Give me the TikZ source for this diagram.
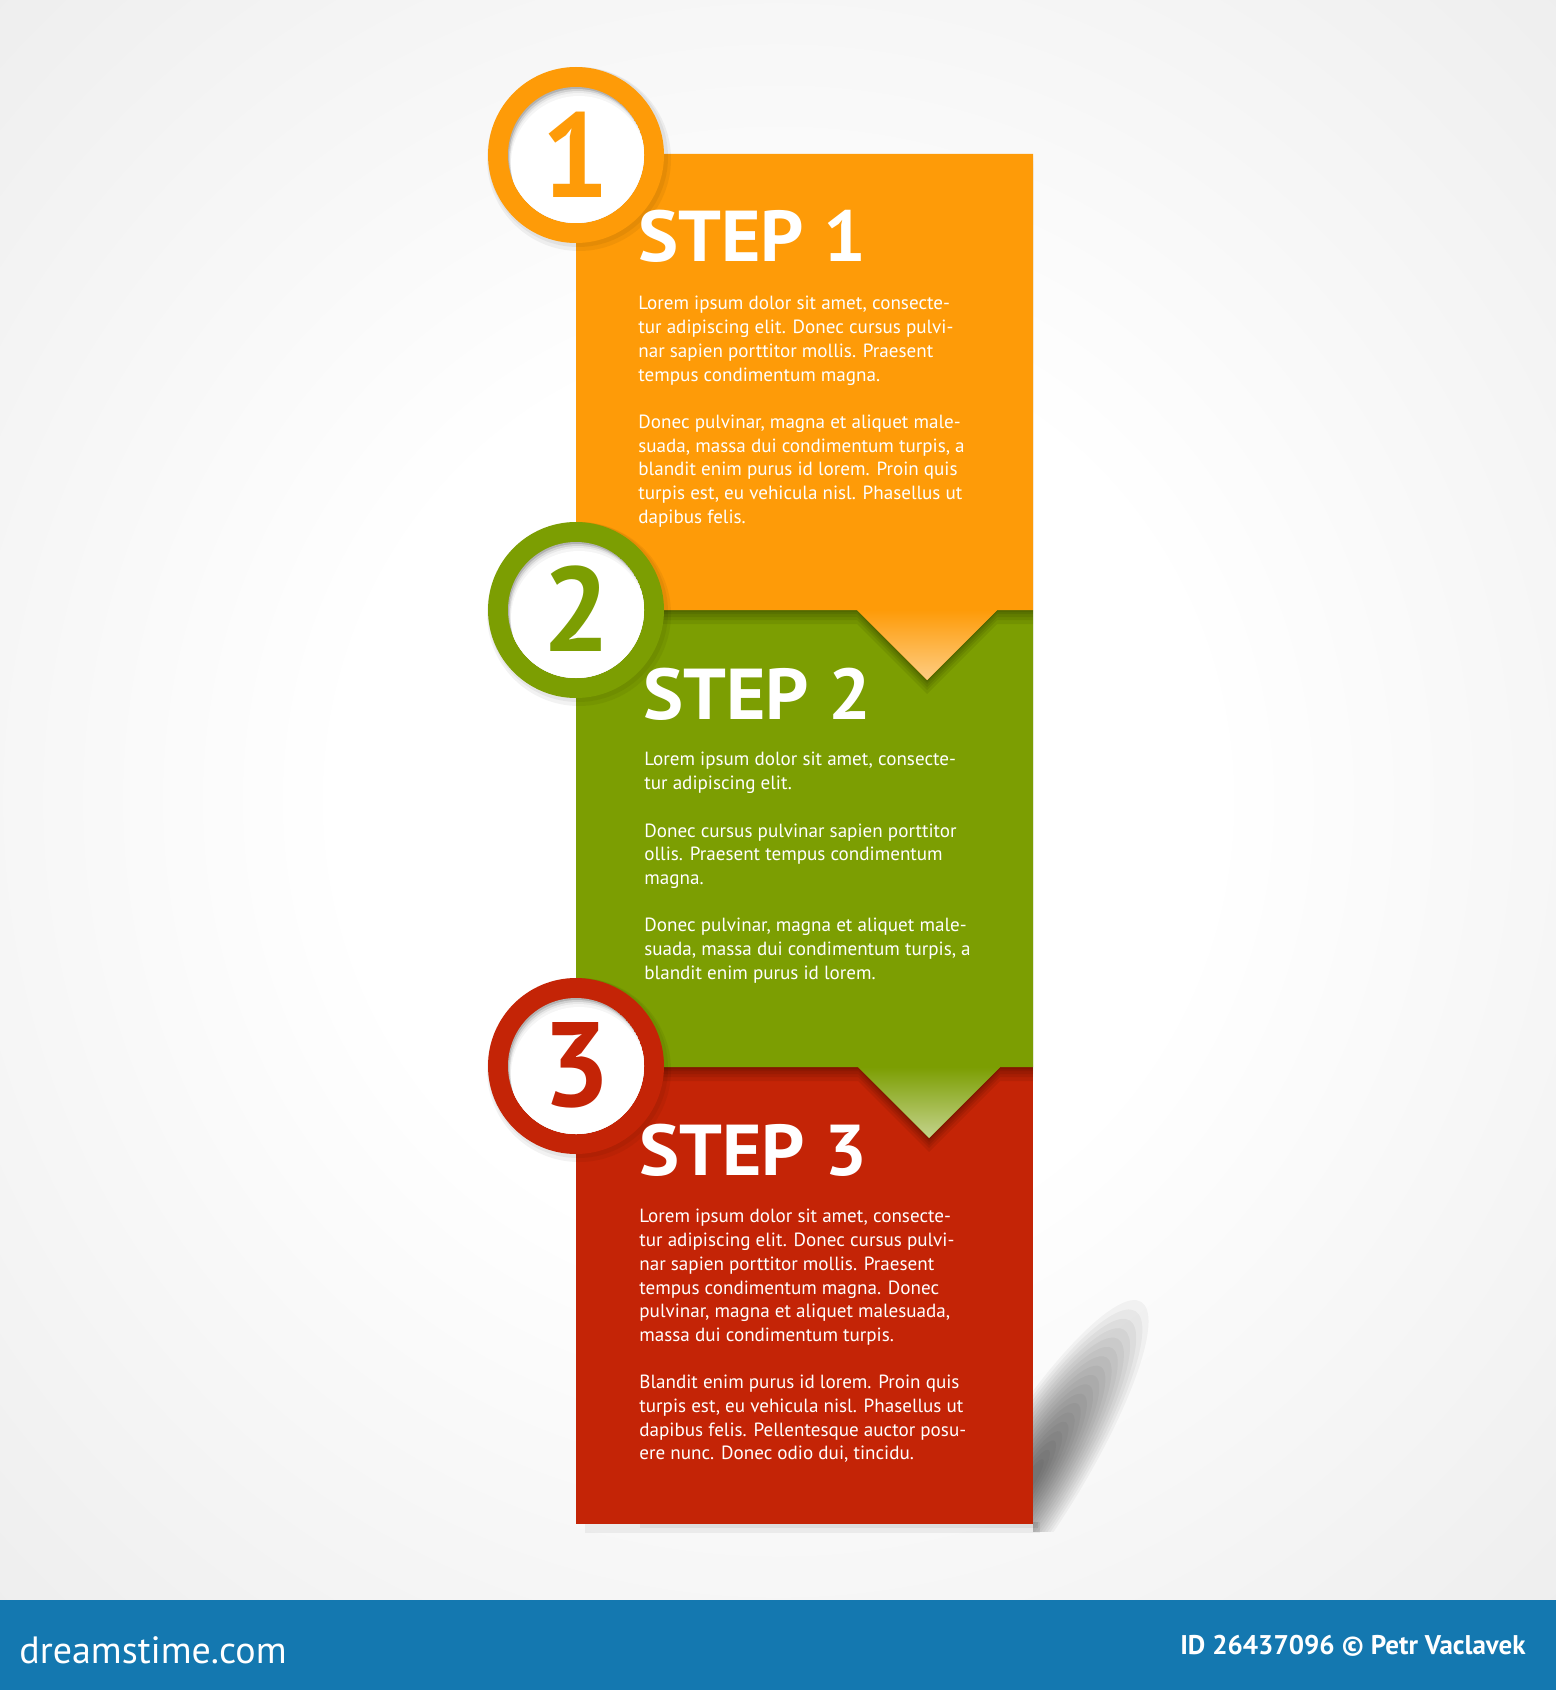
\documentclass[tikz,border=0pt]{standalone}
\usepackage{fontspec}
\usepackage{graphicx}
\setmainfont{PT Sans}
\usetikzlibrary{calc}
\definecolor{stepA}{RGB}{254,155,8}
\definecolor{stepB}{RGB}{124,158,2}
\definecolor{stepC}{RGB}{196,36,6}
\definecolor{banner}{RGB}{20,120,176}
\pgfdeclareradialshading{bgshade}{\pgfpoint{0bp}{0bp}}{color(0bp)=(white); color(14bp)=(white); color(50bp)=(black!11); color(72bp)=(black!17)}
\begin{document}
\begin{tikzpicture}[x=0.5pt,y=-0.5pt,
  body/.style={anchor=north west, inner sep=0pt, align=left, text=white, font=\fontsize{9.55}{11.85}\selectfont},
  title/.style={anchor=base west, inner sep=0pt, text=white, font=\fontsize{36}{36}\selectfont\bfseries},
  digit/.style={inner sep=0pt, font=\fontsize{60}{60}\selectfont\bfseries},
  softshadow/.style={fill=black, opacity=0.075},
  sheetshadow/.style={fill=black, opacity=0.04},
]
\useasboundingbox (0,0) rectangle (1556,1690);
% background
\shade[shading=bgshade] (0,0) rectangle (1556,1600);
\fill[banner] (0,1600) rectangle (1556,1690);

% shadow of the sheet at the lower right
\begin{scope}
  \clip (1033,1100) rectangle (1260,1531);
  \foreach \i in {0,...,17}
    \fill[sheetshadow, rotate around={58:(1030,1480)}] (1030,1480) ellipse [x radius={210*(1-\i*0.052)}, y radius={48*(1-\i*0.052)}];
\end{scope}
\fill[black, opacity=0.05] (585,1522) rectangle (1040,1533);
\fill[black, opacity=0.06] (640,1522) rectangle (1038,1528);

% red panel
\fill[stepC] (576,1067) rectangle (1033,1524);

% shadow of green tab on red
\foreach \k in {2,4,7,10,14}
  \fill[softshadow] (576,{610+\k}) -- (1033,{610+\k}) -- (1033,{1067+\k}) -- (1000,{1067+\k}) -- (929,{1138+\k}) -- (858,{1067+\k}) -- (576,{1067+\k}) -- cycle;

% green panel
\fill[stepB] (576,610) -- (1033,610) -- (1033,1067) -- (1000,1067) -- (929,1138) -- (858,1067) -- (576,1067) -- cycle;
\shade[top color=stepB, middle color=stepB, bottom color=stepB!45!white] (858,1067) -- (929,1138) -- (1000,1067) -- cycle;

% shadow of orange tab on green
\foreach \k in {2,4,7,10,14}
  \fill[softshadow] (576,{154+\k}) -- (1033,{154+\k}) -- (1033,{610+\k}) -- (997,{610+\k}) -- (927,{680+\k}) -- (857,{610+\k}) -- (576,{610+\k}) -- cycle;

% orange panel
\fill[stepA] (576,154) -- (1033,154) -- (1033,610) -- (997,610) -- (927,680) -- (857,610) -- (576,610) -- cycle;
\shade[top color=stepA, middle color=stepA, bottom color=stepA!50!white] (857,610) -- (927,680) -- (997,610) -- cycle;

% circles
\foreach \cy/\col in {155/stepA, 610/stepB, 1066/stepC}{
  \fill[black, opacity=0.05] (579,{\cy+4}) circle (92);
  \fill[black, opacity=0.05] (578,{\cy+2}) circle (90);
  \fill[\col] (576,\cy) circle (88);
  \begin{scope}
    \clip (576,\cy) circle (68);
    \fill[black!30] (576,\cy) circle (68);
    \fill[black!18] (577,{\cy+2}) circle (68);
    \fill[black!9] (578,{\cy+4}) circle (68);
    \fill[black!4] (578.5,{\cy+6}) circle (68);
    \fill[white] (579,{\cy+9}) circle (68);
  \end{scope}
}
\node[digit, text=stepA] (n1) at (576,155) {1};
\node[digit, text=stepB] (n2) at (577,609) {2};
\node[digit, text=stepC] (n3) at (577,1065) {3};

% titles
\node[title] (t1) at (638,262) {\scalebox{1.05}[1]{STEP 1}};
\node[title] (t2) at (643,719) {\scalebox{1.05}[1]{STEP 2}};
\node[title] (t3) at (639,1175) {\scalebox{1.05}[1]{STEP 3}};

% body texts
\node[body] (b1) at (638,296) {Lorem ipsum dolor sit amet, consecte-\\tur adipiscing elit. Donec cursus pulvi-\\nar sapien porttitor mollis. Praesent\\tempus condimentum magna.\\[11.85pt]Donec pulvinar, magna et aliquet male-\\suada, massa dui condimentum turpis, a\\blandit enim purus id lorem. Proin quis\\turpis est, eu vehicula nisl. Phasellus ut\\dapibus felis.};
\node[body] (b2) at (644,752) {Lorem ipsum dolor sit amet, consecte-\\tur adipiscing elit.\\[11.85pt]Donec cursus pulvinar sapien porttitor\\ollis. Praesent tempus condimentum\\magna.\\[11.85pt]Donec pulvinar, magna et aliquet male-\\suada, massa dui condimentum turpis, a\\blandit enim purus id lorem.};
\node[body] (b3) at (639,1209) {Lorem ipsum dolor sit amet, consecte-\\tur adipiscing elit. Donec cursus pulvi-\\nar sapien porttitor mollis. Praesent\\tempus condimentum magna. Donec\\pulvinar, magna et aliquet malesuada,\\massa dui condimentum turpis.\\[11.85pt]Blandit enim purus id lorem. Proin quis\\turpis est, eu vehicula nisl. Phasellus ut\\dapibus felis. Pellentesque auctor posu-\\ere nunc. Donec odio dui, tincidu.};

% banner texts
\node[anchor=base west, text=white, inner sep=0pt, font=\fontsize{19}{19}\selectfont] (ds) at (19,1663) {dreamstime.com};
\node[anchor=base east, text=white, inner sep=0pt, font=\fontsize{13.5}{13.5}\selectfont\bfseries] (id) at (1526,1654) {ID 26437096 © Petr Vaclavek};
\end{tikzpicture}
\end{document}
